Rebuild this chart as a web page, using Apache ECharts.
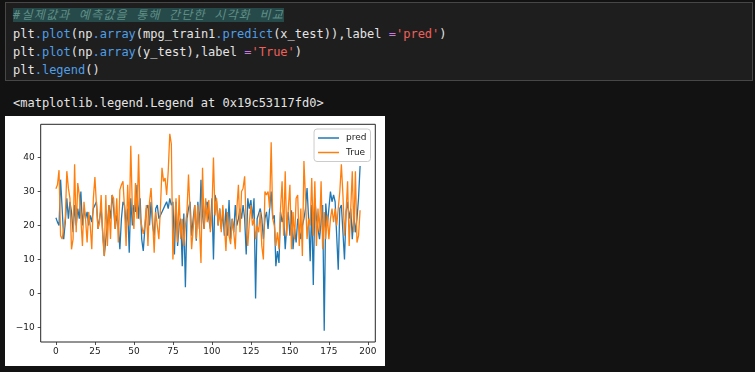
<!DOCTYPE html>
<html>
<head>
<meta charset="utf-8">
<script src="https://cdn.jsdelivr.net/npm/echarts@6/dist/echarts.min.js"></script>
<style>
html,body{margin:0;padding:0;background:#121212;width:755px;height:372px;overflow:hidden;}
#cell{position:absolute;left:5px;top:2px;width:748px;height:79px;background:#1e1e1e;border:1px solid #474747;box-sizing:border-box;}
.ln{position:absolute;left:13px;font-family:'DejaVu Sans Mono',monospace;font-size:12px;line-height:16px;white-space:pre;color:#e4e4e4;}
.fn{color:#4f9fe6;}
.op{color:#c678dd;}
.st{color:#f0605a;}
.cm{font-family:'DejaVu Sans Mono','Noto Sans CJK KR',monospace;font-style:italic;color:#5f8f86;background:#26494a;letter-spacing:1.2px;}
#chart{position:absolute;left:5px;top:116px;width:380px;height:250px;background:#ffffff;}
</style>
</head>
<body>
<div id="cell"></div>
<div class="ln" style="top:7px"><span class="cm">#실제값과 예측값을 통해 간단한 시각화 비교</span></div>
<div class="ln" style="top:26px">plt<span class="fn">.plot</span>(np<span class="fn">.array</span>(mpg_train1<span class="fn">.predict</span>(x_test)),label <span class="op">=</span><span class="st">'pred'</span>)</div>
<div class="ln" style="top:44px">plt<span class="fn">.plot</span>(np<span class="fn">.array</span>(y_test),label <span class="op">=</span><span class="st">'True'</span>)</div>
<div class="ln" style="top:62px">plt<span class="fn">.legend</span>()</div>
<div class="ln" style="top:95px">&lt;matplotlib.legend.Legend at 0x19c53117fd0&gt;</div>
<div id="chart"></div>
<script>
var xTicks = [0, 25, 50, 75, 100, 125, 150, 175, 200];
var yTicks = [-10, 0, 10, 20, 30, 40];
var seriesNames = ['pred', 'True'];
var pred = [
22.3,21,20,33.5,25,16,21,28,22,27,
24,18,26,20,25,22,30,20,25,22,
24,20,23,21,25,26,27,19,22,25,
18,11,16,20,26,22,29,25,19,23,
20,13,22,27,26,20,25,12,28,20,
26,24,32,22,28,16,12.5,19,25,26,
20,27,20,17,25,26,22,22,24,24,
26,27,25,28,26,27,11.5,27,14,20,
22,8,23.5,1.8,22,25,27,17,22,26,
15.5,27,19,33.5,23,19,26,27,22,19,
28,10,29,27,20,25,19,24,17,25,
17,27.5,16,22,18,26,20,22,25,22,
26,22,11.5,28,25,27.5,22,28,-1.5,22,
22,25,22,16,22,24,19,25,30,22,
23,8,12.5,9,24,21,23,13,20,24,
17,24.5,13,19,15,22,19,16,20,22,
25,31,22,9.5,26,2.5,28,22,22,16,
15.5,26,-11,26.5,20,25,30,27,29,27,
27,7,25,26,18,10,24,27,22,25,
16,23,18,22,28,37.5
];
var trueVals = [
30.8,32,36.3,17,16,15.5,22,36,31,28,
13,16,38,18,32.5,29,22,14,27,22,
15,24,20,13,28,34.3,26,19,21,29,
17,11,29,14,26,16,29,28,19,28,
15,30.5,32,33,25,14,32,20,43.5,25,
19,32.5,22,41,22,20,17.5,20,26,14,
27,31,22,12,24,20,16,25,37,33,
34,29,36,47,44,10,20,28,15,29,
16,22,14,20,24,35,34.5,13,19,26,
16,26,20,9,37,19,28,21,27.5,18,
24,40,23,28,20,25,18,26,20,12.5,
24,17,14.5,22,18,13,25,32,18,30,
31,34.5,20,14,21,26,20,22,16,20,
18,24,14,10,30,29,30,25,44.5,22,
20,14,18,13,25,33,17,36,17,25,
32,13,24,16,28,29,14,25,11,39,
28,16,22,20,34,17,33,14,25,18,
33,13,24,16,23,16,22,25,21,25,
20,25,30,38,29,17,24,33,14,25,
36,18,36,15,17,24.5
];

function pairs(arr){ return arr.map(function(v,i){ return [i, v]; }); }
var fmt = function(v){ return v < 0 ? '\u2212' + Math.abs(v) : String(v); };

var chart = echarts.init(document.getElementById('chart'), null, {renderer:'canvas'});
chart.setOption({
  animation: false,
  backgroundColor: '#ffffff',
  grid: {left: 35.7, top: 8.3, right: 9.7, bottom: 24, show: true, borderColor: '#262626', borderWidth: 1, backgroundColor: 'transparent', containLabel: false},
  legend: {
    data: [
      {name: seriesNames[0], icon: 'rect'},
      {name: seriesNames[1], icon: 'rect'}
    ],
    orient: 'vertical', right: 14.5, top: 13,
    itemWidth: 21, itemHeight: 1.5, itemGap: 2.5,
    padding: [3, 4, 3, 4],
    backgroundColor: 'rgba(255,255,255,0.85)', borderColor: '#cccccc', borderWidth: 1, borderRadius: 3,
    textStyle: {fontFamily: 'DejaVu Sans', fontSize: 9, color: '#222', lineHeight: 12, padding: [0, 0, 0, 2]}
  },
  xAxis: {
    type: 'value', min: -9.75, max: 204.75,
    splitLine: {show: false},
    axisLine: {show: false, onZero: false},
    axisTick: {show: true, inside: false, length: 3, lineStyle: {color: '#262626', width: 0.8}, customValues: xTicks},
    axisLabel: {customValues: xTicks, margin: 5, fontFamily: 'DejaVu Sans', fontSize: 9, color: '#222', formatter: fmt}
  },
  yAxis: {
    type: 'value', min: -14.3, max: 49.8,
    splitLine: {show: false},
    axisLine: {show: false, onZero: false},
    axisTick: {show: true, inside: false, length: 3, lineStyle: {color: '#262626', width: 0.8}, customValues: yTicks},
    axisLabel: {customValues: yTicks, margin: 6, fontFamily: 'DejaVu Sans', fontSize: 9, color: '#222', formatter: fmt}
  },
  series: [
    {name: seriesNames[0], type: 'line', data: pairs(pred), showSymbol: false, symbol: 'none', lineStyle: {color: '#1f77b4', width: 1.3}, itemStyle: {color: '#1f77b4'}, z: 2},
    {name: seriesNames[1], type: 'line', data: pairs(trueVals), showSymbol: false, symbol: 'none', lineStyle: {color: '#ff7f0e', width: 1.3}, itemStyle: {color: '#ff7f0e'}, z: 3}
  ]
});
</script>
</body>
</html>
